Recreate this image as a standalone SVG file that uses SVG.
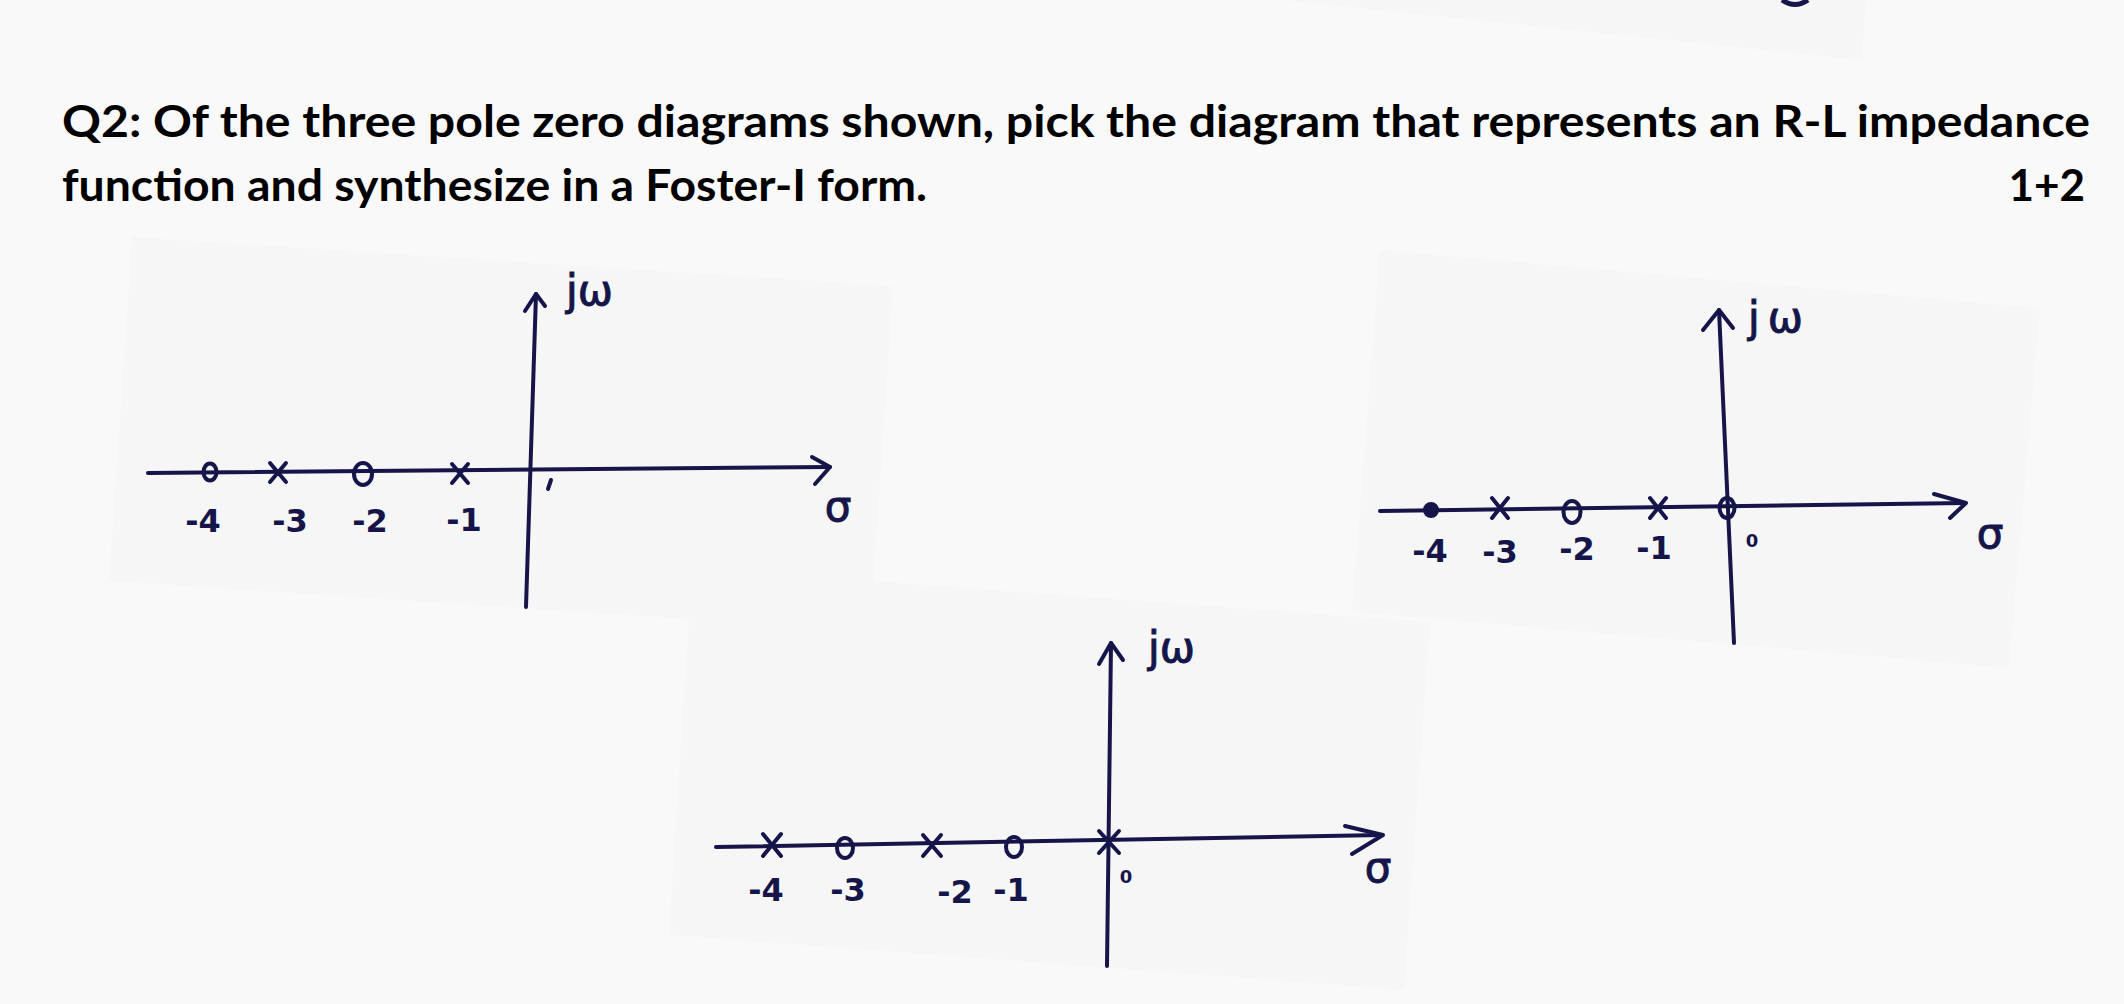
<svg xmlns="http://www.w3.org/2000/svg" width="2124" height="1004" viewBox="0 0 2124 1004">
<style>
.paper{fill:#f6f6f6}
.title{font-family:Lato,"Open Sans","Liberation Sans",sans-serif;font-weight:700;font-size:44px;fill:#000}
.ink{fill:none;stroke:#15154a;stroke-width:4;stroke-linecap:round;stroke-linejoin:round}
.lbl{font-family:"DejaVu Sans","Liberation Sans",sans-serif;font-size:32px;font-weight:700;fill:#15154a;text-anchor:middle}
.sym{font-family:"DejaVu Sans","Liberation Sans",sans-serif;font-size:42px;fill:#15154a;stroke:#15154a;stroke-width:1}
.zero{font-family:"DejaVu Sans","Liberation Sans",sans-serif;font-size:18px;font-weight:700;fill:#15154a}
</style>
<rect x="0" y="0" width="2124" height="1004" fill="#f9f9f9"/>
<!-- paper scraps -->
<polygon class="paper" points="1280,0 1866,0 1862,60"/>
<path d="M1782,0 Q1795,9 1808,0" fill="none" stroke="#15154a" stroke-width="5"/>
<polygon class="paper" points="132,237 893,286 870,631 109,581"/>
<polygon class="paper" points="1380,250 2040,308 2009,668 1352,612"/>
<polygon class="paper" points="692,568 1430,622 1404,990 669,935"/>

<g id="question">
<text class="title" x="62" y="137" textLength="2028" lengthAdjust="spacingAndGlyphs">Q2: Of the three pole zero diagrams shown, pick the diagram that represents an R-L impedance</text>
<text class="title" x="62" y="201" textLength="865" lengthAdjust="spacingAndGlyphs">function and synthesize in a Foster-I form.</text>
<text class="title" x="2085" y="201" text-anchor="end">1+2</text>
</g>

<g id="diagram1">
<g class="ink">
<path d="M536,294 L526,607"/>
<path d="M525,311 L536,294 L545,306"/>
<path d="M148,473 L830,467"/>
<path d="M812,457 L830,467 L815,484"/>
<ellipse cx="210" cy="472" rx="6.5" ry="8.5"/>
<path d="M270,463 L286,482 M286,463 L270,482"/>
<ellipse cx="363" cy="474" rx="9" ry="11"/>
<path d="M452,464 L468,483 M468,464 L452,483"/>
<path d="M551,480 L548,489"/>
</g>
<text class="sym" x="566" y="305">jω</text>
<text class="lbl" x="203" y="532">-4</text>
<text class="lbl" x="290" y="532">-3</text>
<text class="lbl" x="370" y="532">-2</text>
<text class="lbl" x="464" y="531">-1</text>
<text class="sym" x="838" y="521" text-anchor="middle">σ</text>
</g>

<g id="diagram2">
<g class="ink">
<path d="M1719,310 L1734,643"/>
<path d="M1703,330 L1719,310 L1733,328"/>
<path d="M1380,511 L1965,503"/>
<path d="M1934,494 L1966,503 L1950,518"/>
<ellipse cx="1431" cy="510" rx="6" ry="6" fill="#15154a"/>
<path d="M1492,498 L1508,518 M1508,498 L1492,518"/>
<ellipse cx="1572" cy="512" rx="8.5" ry="11"/>
<path d="M1650,498 L1666,518 M1666,498 L1650,518"/>
<ellipse cx="1727" cy="508" rx="7.5" ry="10"/>
</g>
<text class="sym" x="1748" y="332" letter-spacing="8">jω</text>
<text class="lbl" x="1430" y="562">-4</text>
<text class="lbl" x="1500" y="563">-3</text>
<text class="lbl" x="1577" y="560">-2</text>
<text class="lbl" x="1654" y="559">-1</text>
<text class="zero" x="1752" y="547" text-anchor="middle">0</text>
<text class="sym" x="1990" y="548" text-anchor="middle">σ</text>
</g>

<g id="diagram3">
<g class="ink">
<path d="M1111,643 L1107,966"/>
<path d="M1099,664 L1111,643 L1123,660"/>
<path d="M716,847 L1382,835"/>
<path d="M1345,826 L1383,835 L1352,854"/>
<path d="M763,834 L781,856 M781,834 L763,856"/>
<ellipse cx="845" cy="848" rx="8" ry="10"/>
<path d="M923,835 L941,856 M941,835 L923,856"/>
<ellipse cx="1014" cy="847" rx="8" ry="10"/>
<path d="M1099,831 L1119,853 M1119,831 L1099,853"/>
</g>
<text class="sym" x="1148" y="662">jω</text>
<text class="lbl" x="766" y="901">-4</text>
<text class="lbl" x="848" y="901">-3</text>
<text class="lbl" x="955" y="903">-2</text>
<text class="lbl" x="1011" y="901">-1</text>
<text class="zero" x="1126" y="883" text-anchor="middle">0</text>
<text class="sym" x="1378" y="882" text-anchor="middle">σ</text>
</g>
</svg>
